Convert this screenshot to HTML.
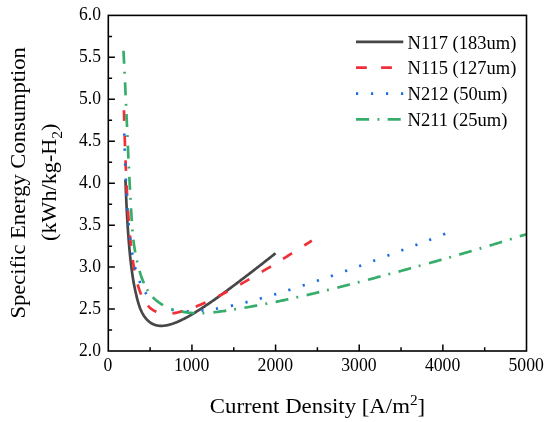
<!DOCTYPE html>
<html lang="en">
<head>
<meta charset="utf-8">
<title>Specific Energy Consumption vs Current Density</title>
<style>
html,body{margin:0;padding:0;background:#fff;}
body{width:550px;height:422px;overflow:hidden;}
svg{display:block;}
text{font-family:"Liberation Serif","DejaVu Serif",serif;fill:#000;}
.tk{font-size:18px;}
.lg{font-size:18.5px;}
.ax{font-size:21.5px;}
</style>
</head>
<body>
<svg width="550" height="422" viewBox="0 0 550 422">
<rect x="0" y="0" width="550" height="422" fill="#ffffff"/>
<defs><clipPath id="plot"><rect x="108.3" y="15.4" width="418.2" height="335.6"/></clipPath></defs>

<g clip-path="url(#plot)" fill="none" stroke-width="2.7" stroke-linejoin="round">
<path d="M125.46 180.03 L125.51 181.53 L125.57 183.03 L125.62 184.53 L125.68 186.03 L125.74 187.53 L125.80 189.03 L125.86 190.53 L125.92 192.03 L125.98 193.53 L126.05 195.03 L126.11 196.53 L126.18 198.03 L126.25 199.52 L126.31 201.02 L126.38 202.52 L126.45 204.02 L126.53 205.52 L126.60 207.02 L126.68 208.52 L126.75 210.02 L126.83 211.52 L126.91 213.02 L126.99 214.52 L127.08 216.01 L127.16 217.51 L127.25 219.01 L127.33 220.51 L127.42 222.01 L127.52 223.51 L127.61 225.00 L127.71 226.50 L127.80 228.00 L127.90 229.50 L128.00 230.99 L128.11 232.49 L128.21 233.99 L128.32 235.49 L128.43 236.98 L128.55 238.48 L128.67 239.98 L128.78 241.47 L128.91 242.97 L129.03 244.46 L129.16 245.96 L129.29 247.45 L129.42 248.95 L129.56 250.44 L129.70 251.94 L129.85 253.43 L129.99 254.93 L130.15 256.42 L130.30 257.91 L130.46 259.40 L130.63 260.90 L130.80 262.39 L130.97 263.88 L131.15 265.37 L131.34 266.86 L131.52 268.35 L131.72 269.83 L131.92 271.32 L132.13 272.81 L132.34 274.29 L132.56 275.78 L132.79 277.26 L133.03 278.74 L133.27 280.23 L133.52 281.70 L133.78 283.18 L134.06 284.66 L134.34 286.13 L134.63 287.61 L134.93 289.08 L135.24 290.54 L135.57 292.01 L135.91 293.47 L136.27 294.93 L136.60 296.39 L136.95 297.85 L137.31 299.31 L137.69 300.76 L138.10 302.20 L138.53 303.64 L138.99 305.07 L139.47 306.49 L139.98 307.90 L140.53 309.30 L141.12 310.68 L141.78 312.03 L142.48 313.35 L143.23 314.66 L144.03 315.93 L144.89 317.16 L145.80 318.35 L146.78 319.49 L147.83 320.56 L148.95 321.56 L150.13 322.48 L151.39 323.30 L152.71 324.01 L154.09 324.60 L155.51 325.08 L156.97 325.43 L158.45 325.67 L159.95 325.80 L161.45 325.83 L162.95 325.78 L164.44 325.64 L165.93 325.42 L167.40 325.14 L168.86 324.81 L170.32 324.42 L171.75 323.99 L173.18 323.52 L174.59 323.01 L175.99 322.47 L177.38 321.90 L178.76 321.31 L180.13 320.69 L181.48 320.05 L182.83 319.39 L184.17 318.72 L185.51 318.03 L186.83 317.32 L188.14 316.59 L189.45 315.85 L190.75 315.10 L192.04 314.34 L193.33 313.58 L194.62 312.80 L195.90 312.01 L197.17 311.22 L198.44 310.42 L199.70 309.61 L200.96 308.80 L202.22 307.98 L203.48 307.15 L204.73 306.32 L205.97 305.49 L207.22 304.65 L208.46 303.80 L209.70 302.95 L210.93 302.10 L212.16 301.24 L213.39 300.38 L214.62 299.52 L215.85 298.65 L217.07 297.78 L218.29 296.91 L219.51 296.04 L220.73 295.16 L221.95 294.28 L223.16 293.40 L224.37 292.51 L225.58 291.63 L226.79 290.74 L228.00 289.85 L229.21 288.95 L230.41 288.06 L231.62 287.16 L232.82 286.27 L234.02 285.37 L235.22 284.47 L236.42 283.56 L237.62 282.66 L238.82 281.76 L240.01 280.85 L241.21 279.94 L242.40 279.03 L243.60 278.12 L244.79 277.21 L245.98 276.30 L247.17 275.39 L248.37 274.47 L249.55 273.56 L250.74 272.64 L251.93 271.73 L253.12 270.81 L254.31 269.89 L255.49 268.97 L256.68 268.05 L257.87 267.13 L259.05 266.21 L260.23 265.29 L261.42 264.37 L262.60 263.44 L263.78 262.52 L264.97 261.59 L266.15 260.67 L267.33 259.74 L268.51 258.82 L269.69 257.89 L270.87 256.96 L272.05 256.03 L273.23 255.11 L274.41 254.18 L275.59 253.25" stroke="#474747"/>
<path d="M123.97 110.30 L124.01 111.80 L124.04 113.30 L124.08 114.81 L124.12 116.31 L124.16 117.81 L124.20 119.32 L124.25 120.82 L124.29 122.33 L124.33 123.83 L124.37 125.33 L124.41 126.84 L124.46 128.34 L124.50 129.84 L124.55 131.35 L124.59 132.85 L124.64 134.35 L124.68 135.86 L124.73 137.36 L124.78 138.86 L124.83 140.37 L124.87 141.87 L124.92 143.37 L124.97 144.88 L125.02 146.38 L125.07 147.88 L125.12 149.39 L125.18 150.89 L125.23 152.39 L125.28 153.90 L125.34 155.40 L125.39 156.90 L125.45 158.40 L125.51 159.91 L125.56 161.41 L125.62 162.91 L125.68 164.42 L125.74 165.92 L125.80 167.42 L125.86 168.92 L125.92 170.43 L125.99 171.93 L126.05 173.43 L126.12 174.94 L126.18 176.44 L126.25 177.94 L126.32 179.44 L126.39 180.95 L126.46 182.45 L126.53 183.95 L126.60 185.45 L126.67 186.96 L126.75 188.46 L126.82 189.96 L126.90 191.46 L126.98 192.96 L127.06 194.47 L127.14 195.97 L127.22 197.47 L127.31 198.97 L127.39 200.47 L127.48 201.97 L127.57 203.48 L127.66 204.98 L127.75 206.48 L127.84 207.98 L127.94 209.48 L128.03 210.98 L128.13 212.48 L128.23 213.98 L128.34 215.48 L128.44 216.98 L128.55 218.48 L128.66 219.98 L128.77 221.48 L128.88 222.98 L129.00 224.48 L129.12 225.98 L129.24 227.48 L129.36 228.98 L129.49 230.48 L129.62 231.98 L129.75 233.48 L129.89 234.98 L130.03 236.47 L130.17 237.97 L130.31 239.47 L130.46 240.96 L130.62 242.46 L130.77 243.96 L130.93 245.45 L131.10 246.95 L131.27 248.44 L131.44 249.93 L131.62 251.43 L131.81 252.92 L132.00 254.41 L132.20 255.90 L132.40 257.39 L132.61 258.88 L132.82 260.37 L133.04 261.86 L133.27 263.35 L133.51 264.83 L133.75 266.32 L134.01 267.80 L134.27 269.28 L134.54 270.76 L134.82 272.24 L135.12 273.71 L135.42 275.18 L135.74 276.65 L136.07 278.12 L136.41 279.59 L136.77 281.05 L137.15 282.50 L137.54 283.95 L137.95 285.40 L138.38 286.84 L138.84 288.28 L139.31 289.70 L139.82 291.12 L140.35 292.53 L140.91 293.92 L141.50 295.31 L142.12 296.67 L142.79 298.02 L143.50 299.35 L144.25 300.65 L145.05 301.93 L145.90 303.17 L146.80 304.37 L147.77 305.52 L148.79 306.63 L149.87 307.67 L151.02 308.64 L152.23 309.53 L153.50 310.35 L154.81 311.07 L156.18 311.71 L157.58 312.25 L159.02 312.69 L160.48 313.05 L161.95 313.33 L163.45 313.52 L164.95 313.64 L166.45 313.69 L167.95 313.68 L169.45 313.61 L170.95 313.49 L172.45 313.32 L173.94 313.11 L175.42 312.86 L176.90 312.58 L178.37 312.26 L179.83 311.91 L181.29 311.54 L182.74 311.14 L184.18 310.72 L185.62 310.28 L187.05 309.82 L188.48 309.34 L189.90 308.85 L191.31 308.34 L192.72 307.81 L194.13 307.28 L195.53 306.73 L196.92 306.16 L198.31 305.59 L199.70 305.01 L201.08 304.41 L202.46 303.81 L203.84 303.20 L205.21 302.58 L206.57 301.96 L207.94 301.32 L209.30 300.68 L210.66 300.03 L212.01 299.38 L213.36 298.72 L214.71 298.06 L216.06 297.38 L217.40 296.71 L218.74 296.03 L220.08 295.34 L221.42 294.65 L222.75 293.96 L224.08 293.26 L225.41 292.56 L226.74 291.85 L228.07 291.14 L229.39 290.43 L230.71 289.71 L232.03 288.99 L233.35 288.26 L234.67 287.54 L235.98 286.81 L237.30 286.08 L238.61 285.34 L239.92 284.60 L241.23 283.86 L242.54 283.12 L243.84 282.37 L245.15 281.63 L246.45 280.88 L247.76 280.12 L249.06 279.37 L250.36 278.61 L251.66 277.85 L252.95 277.09 L254.25 276.33 L255.55 275.57 L256.84 274.80 L258.13 274.04 L259.43 273.27 L260.72 272.50 L262.01 271.72 L263.30 270.95 L264.59 270.17 L265.87 269.40 L267.16 268.62 L268.45 267.84 L269.73 267.06 L271.02 266.27 L272.30 265.49 L273.58 264.71 L274.87 263.92 L276.15 263.13 L277.43 262.34 L278.71 261.55 L279.99 260.76 L281.27 259.97 L282.54 259.18 L283.82 258.38 L285.10 257.59 L286.37 256.79 L287.65 255.99 L288.92 255.20 L290.20 254.40 L291.47 253.60 L292.75 252.80 L294.02 251.99 L295.29 251.19 L296.56 250.39 L297.83 249.58 L299.10 248.78 L300.37 247.97 L301.64 247.17 L302.91 246.36 L304.18 245.55 L305.45 244.74 L306.71 243.93 L307.98 243.12 L309.25 242.31 L310.51 241.50 L311.78 240.68" stroke="#f03038" stroke-dasharray="0.00 0.00 10.60 14.71 10.60 14.11 10.60 14.36 10.60 14.56 10.60 14.41 10.60 14.21 10.60 14.46 10.60 13.11 10.60 16.26 10.60 13.71 10.60 14.21 10.60 14.26 10.60 14.56 10.60 14.16 10.60 14.56 10.60 483.54"/>
<path d="M124.24 133.37 L124.28 134.87 L124.33 136.37 L124.37 137.87 L124.41 139.37 L124.45 140.87 L124.50 142.37 L124.54 143.87 L124.58 145.38 L124.63 146.88 L124.68 148.38 L124.72 149.88 L124.77 151.38 L124.82 152.88 L124.87 154.38 L124.92 155.88 L124.97 157.38 L125.02 158.88 L125.08 160.38 L125.13 161.88 L125.18 163.38 L125.24 164.88 L125.30 166.38 L125.35 167.88 L125.41 169.38 L125.47 170.88 L125.53 172.38 L125.59 173.88 L125.66 175.39 L125.72 176.89 L125.79 178.39 L125.85 179.89 L125.92 181.39 L125.99 182.89 L126.06 184.38 L126.13 185.88 L126.21 187.38 L126.28 188.88 L126.36 190.38 L126.44 191.88 L126.52 193.38 L126.60 194.88 L126.68 196.38 L126.77 197.88 L126.86 199.38 L126.94 200.88 L127.04 202.38 L127.13 203.87 L127.22 205.37 L127.32 206.87 L127.42 208.37 L127.53 209.87 L127.63 211.37 L127.74 212.86 L127.85 214.36 L127.96 215.86 L128.08 217.35 L128.20 218.85 L128.32 220.35 L128.45 221.84 L128.58 223.34 L128.71 224.84 L128.84 226.33 L128.99 227.83 L129.13 229.32 L129.28 230.81 L129.43 232.31 L129.59 233.80 L129.75 235.29 L129.92 236.79 L130.09 238.28 L130.27 239.77 L130.46 241.26 L130.65 242.75 L130.84 244.24 L131.05 245.72 L131.26 247.21 L131.48 248.70 L131.70 250.18 L131.94 251.66 L132.18 253.14 L132.43 254.62 L132.69 256.10 L132.96 257.58 L133.25 259.05 L133.54 260.53 L133.84 262.00 L134.16 263.46 L134.49 264.93 L134.84 266.39 L135.20 267.85 L135.57 269.30 L135.97 270.75 L136.38 272.20 L136.81 273.63 L137.25 275.07 L137.72 276.49 L138.22 277.91 L138.73 279.32 L139.27 280.72 L139.84 282.11 L140.44 283.49 L141.06 284.86 L141.72 286.21 L142.41 287.54 L143.13 288.86 L143.89 290.15 L144.68 291.43 L145.52 292.68 L146.39 293.90 L147.30 295.09 L148.25 296.25 L149.25 297.37 L150.29 298.46 L151.36 299.51 L152.48 300.51 L153.63 301.47 L154.83 302.38 L156.05 303.24 L157.31 304.06 L158.61 304.83 L159.93 305.54 L161.27 306.21 L162.64 306.83 L164.03 307.40 L165.44 307.92 L166.86 308.40 L168.30 308.83 L169.75 309.22 L171.21 309.57 L172.67 309.89 L174.15 310.16 L175.63 310.41 L177.12 310.62 L178.61 310.79 L180.10 310.94 L181.60 311.06 L183.10 311.16 L184.60 311.23 L186.10 311.27 L187.60 311.30 L189.10 311.30 L190.60 311.28 L192.10 311.24 L193.61 311.19 L195.10 311.12 L196.60 311.03 L198.10 310.93 L199.60 310.81 L201.09 310.68 L202.59 310.53 L204.08 310.37 L205.57 310.20 L207.06 310.02 L208.55 309.83 L210.04 309.63 L211.53 309.41 L213.01 309.19 L214.50 308.96 L215.98 308.72 L217.46 308.47 L218.94 308.21 L220.41 307.94 L221.89 307.67 L223.37 307.39 L224.84 307.10 L226.31 306.81 L227.78 306.51 L229.25 306.20 L230.72 305.89 L232.19 305.57 L233.66 305.25 L235.12 304.92 L236.58 304.58 L238.05 304.25 L239.51 303.90 L240.97 303.55 L242.43 303.20 L243.89 302.84 L245.34 302.48 L246.80 302.11 L248.25 301.74 L249.71 301.37 L251.16 300.99 L252.61 300.61 L254.06 300.22 L255.52 299.83 L256.96 299.44 L258.41 299.05 L259.86 298.65 L261.31 298.25 L262.75 297.84 L264.20 297.43 L265.64 297.02 L267.09 296.61 L268.53 296.19 L269.97 295.78 L271.41 295.35 L272.85 294.93 L274.29 294.50 L275.73 294.08 L277.17 293.64 L278.61 293.21 L280.04 292.78 L281.48 292.34 L282.92 291.90 L284.35 291.46 L285.79 291.01 L287.22 290.57 L288.65 290.12 L290.08 289.67 L291.52 289.22 L292.95 288.76 L294.38 288.31 L295.81 287.85 L297.24 287.39 L298.67 286.93 L300.10 286.47 L301.52 286.01 L302.95 285.54 L304.38 285.08 L305.81 284.61 L307.23 284.14 L308.66 283.67 L310.08 283.19 L311.51 282.72 L312.93 282.24 L314.36 281.77 L315.78 281.29 L317.20 280.81 L318.62 280.33 L320.05 279.85 L321.47 279.37 L322.89 278.88 L324.31 278.40 L325.73 277.91 L327.15 277.42 L328.57 276.93 L329.99 276.44 L331.41 275.95 L332.83 275.46 L334.24 274.97 L335.66 274.47 L337.08 273.98 L338.50 273.48 L339.91 272.98 L341.33 272.48 L342.75 271.99 L344.16 271.49 L345.58 270.98 L346.99 270.48 L348.41 269.98 L349.82 269.48 L351.24 268.97 L352.65 268.47 L354.06 267.96 L355.48 267.45 L356.89 266.94 L358.30 266.44 L359.71 265.93 L361.13 265.42 L362.54 264.90 L363.95 264.39 L365.36 263.88 L366.77 263.37 L368.18 262.85 L369.59 262.34 L371.00 261.82 L372.41 261.31 L373.82 260.79 L375.23 260.27 L376.64 259.75 L378.05 259.23 L379.46 258.72 L380.87 258.19 L382.28 257.67 L383.68 257.15 L385.09 256.63 L386.50 256.11 L387.91 255.58 L389.31 255.06 L390.72 254.54 L392.13 254.01 L393.53 253.49 L394.94 252.96 L396.35 252.43 L397.75 251.91 L399.16 251.38 L400.56 250.85 L401.97 250.32 L403.37 249.79 L404.78 249.26 L406.18 248.73 L407.59 248.20 L408.99 247.67 L410.40 247.14 L411.80 246.60 L413.20 246.07 L414.61 245.54 L416.01 245.00 L417.41 244.47 L418.82 243.93 L420.22 243.40 L421.62 242.86 L423.02 242.33 L424.43 241.79 L425.83 241.25 L427.23 240.72 L428.63 240.18 L430.03 239.64 L431.44 239.10 L432.84 238.56 L434.24 238.02 L435.64 237.48 L437.04 236.94 L438.44 236.40 L439.84 235.86 L441.24 235.32 L442.64 234.78 L444.04 234.23 L445.44 233.69" stroke="#1a6fdf" stroke-dasharray="0.00 0.20 2.20 12.80 2.20 12.75 2.20 12.80 2.20 12.85 2.20 12.50 2.20 12.85 2.20 12.30 2.20 12.85 2.20 12.75 2.20 12.20 2.20 10.60 2.20 30.15 2.20 12.95 2.20 12.70 2.20 12.40 2.20 13.05 2.20 12.75 2.20 12.65 2.20 12.70 2.20 12.65 2.20 12.95 2.20 12.70 2.20 12.55 2.20 12.90 2.20 12.70 2.20 12.70 2.20 13.00 2.20 12.65 2.20 12.85 2.20 12.50 2.20 12.85 2.20 580.47"/>
<path d="M123.48 50.58 L123.56 52.08 L123.63 53.58 L123.71 55.08 L123.79 56.58 L123.86 58.08 L123.94 59.58 L124.02 61.08 L124.09 62.58 L124.16 64.08 L124.24 65.58 L124.31 67.08 L124.38 68.58 L124.46 70.08 L124.53 71.58 L124.60 73.09 L124.67 74.59 L124.74 76.09 L124.81 77.59 L124.88 79.09 L124.95 80.59 L125.02 82.09 L125.09 83.59 L125.16 85.09 L125.23 86.59 L125.30 88.09 L125.37 89.59 L125.44 91.09 L125.50 92.59 L125.57 94.09 L125.64 95.60 L125.71 97.10 L125.77 98.60 L125.84 100.10 L125.91 101.60 L125.97 103.10 L126.04 104.60 L126.11 106.10 L126.17 107.60 L126.24 109.10 L126.31 110.60 L126.37 112.10 L126.44 113.61 L126.50 115.11 L126.57 116.61 L126.64 118.11 L126.70 119.61 L126.77 121.11 L126.83 122.61 L126.90 124.11 L126.96 125.61 L127.03 127.11 L127.10 128.61 L127.16 130.12 L127.23 131.62 L127.30 133.12 L127.36 134.62 L127.43 136.12 L127.50 137.62 L127.56 139.12 L127.63 140.62 L127.70 142.12 L127.76 143.62 L127.83 145.12 L127.90 146.62 L127.97 148.12 L128.04 149.63 L128.10 151.13 L128.17 152.63 L128.24 154.13 L128.31 155.63 L128.38 157.13 L128.45 158.63 L128.52 160.13 L128.59 161.63 L128.66 163.13 L128.74 164.63 L128.81 166.13 L128.88 167.63 L128.95 169.13 L129.03 170.63 L129.10 172.14 L129.17 173.64 L129.25 175.14 L129.32 176.64 L129.40 178.14 L129.47 179.64 L129.55 181.14 L129.63 182.64 L129.70 184.14 L129.78 185.64 L129.86 187.14 L129.94 188.64 L130.02 190.14 L130.10 191.64 L130.18 193.14 L130.26 194.64 L130.34 196.14 L130.43 197.64 L130.51 199.14 L130.60 200.64 L130.68 202.14 L130.77 203.64 L130.85 205.14 L130.94 206.64 L131.03 208.14 L131.11 209.64 L131.20 211.14 L131.29 212.64 L131.38 214.14 L131.48 215.64 L131.57 217.14 L131.66 218.64 L131.76 220.14 L131.85 221.63 L131.95 223.13 L132.05 224.63 L132.15 226.13 L132.25 227.63 L132.36 229.13 L132.48 230.63 L132.60 232.12 L132.73 233.62 L132.87 235.12 L133.01 236.61 L133.17 238.11 L133.34 239.60 L133.52 241.09 L133.71 242.58 L133.91 244.07 L134.12 245.56 L134.35 247.04 L134.58 248.52 L134.83 250.01 L135.09 251.49 L135.36 252.96 L135.64 254.44 L135.93 255.91 L136.23 257.39 L136.54 258.86 L136.86 260.32 L137.19 261.79 L137.53 263.25 L137.88 264.71 L138.24 266.17 L138.62 267.63 L139.00 269.08 L139.41 270.53 L139.83 271.97 L140.27 273.40 L140.72 274.84 L141.20 276.26 L141.70 277.68 L142.22 279.09 L142.77 280.49 L143.34 281.87 L143.94 283.25 L144.57 284.62 L145.23 285.97 L145.92 287.30 L146.64 288.62 L147.40 289.91 L148.20 291.18 L149.04 292.43 L149.91 293.65 L150.83 294.84 L151.79 296.00 L152.79 297.12 L153.84 298.20 L154.93 299.23 L156.05 300.23 L157.21 301.18 L158.41 302.09 L159.64 302.96 L160.89 303.78 L162.17 304.56 L163.48 305.31 L164.81 306.01 L166.15 306.67 L167.52 307.30 L168.90 307.89 L170.30 308.44 L171.71 308.96 L173.13 309.44 L174.56 309.89 L176.01 310.31 L177.46 310.70 L178.92 311.05 L180.38 311.38 L181.86 311.68 L183.34 311.95 L184.82 312.19 L186.31 312.40 L187.80 312.59 L189.29 312.75 L190.78 312.89 L192.28 313.00 L193.78 313.09 L195.28 313.15 L196.79 313.20 L198.29 313.21 L199.79 313.21 L201.29 313.19 L202.79 313.14 L204.29 313.08 L205.79 313.00 L207.29 312.91 L208.79 312.79 L210.29 312.67 L211.78 312.53 L213.28 312.37 L214.77 312.21 L216.26 312.03 L217.76 311.85 L219.25 311.66 L220.73 311.45 L222.22 311.25 L223.71 311.04 L225.20 310.82 L226.68 310.60 L228.17 310.38 L229.65 310.15 L231.14 309.92 L232.62 309.69 L234.11 309.46 L235.59 309.22 L237.07 308.98 L238.56 308.74 L240.04 308.50 L241.52 308.25 L243.00 308.00 L244.48 307.75 L245.96 307.50 L247.44 307.24 L248.92 306.98 L250.40 306.72 L251.88 306.45 L253.36 306.19 L254.84 305.92 L256.32 305.65 L257.79 305.37 L259.27 305.10 L260.75 304.82 L262.22 304.54 L263.70 304.25 L265.17 303.97 L266.65 303.68 L268.12 303.39 L269.59 303.10 L271.07 302.81 L272.54 302.51 L274.01 302.21 L275.49 301.91 L276.96 301.61 L278.43 301.31 L279.90 301.00 L281.37 300.69 L282.84 300.38 L284.31 300.07 L285.78 299.76 L287.25 299.44 L288.71 299.12 L290.18 298.80 L291.65 298.48 L293.12 298.16 L294.58 297.83 L296.05 297.51 L297.52 297.18 L298.98 296.85 L300.45 296.52 L301.91 296.19 L303.38 295.85 L304.84 295.51 L306.31 295.18 L307.77 294.84 L309.23 294.50 L310.69 294.15 L312.16 293.81 L313.62 293.46 L315.08 293.12 L316.54 292.77 L318.00 292.42 L319.46 292.07 L320.92 291.72 L322.38 291.36 L323.84 291.01 L325.30 290.65 L326.76 290.29 L328.22 289.93 L329.68 289.57 L331.14 289.21 L332.60 288.85 L334.05 288.49 L335.51 288.12 L336.97 287.76 L338.43 287.39 L339.88 287.02 L341.34 286.66 L342.79 286.29 L344.25 285.92 L345.71 285.54 L347.16 285.17 L348.62 284.80 L350.07 284.42 L351.53 284.05 L352.98 283.67 L354.44 283.30 L355.89 282.92 L357.34 282.54 L358.80 282.16 L360.25 281.78 L361.70 281.40 L363.16 281.02 L364.61 280.64 L366.06 280.26 L367.52 279.87 L368.97 279.49 L370.42 279.10 L371.87 278.72 L373.32 278.33 L374.78 277.95 L376.23 277.56 L377.68 277.18 L379.13 276.79 L380.58 276.40 L382.03 276.01 L383.49 275.63 L384.94 275.24 L386.39 274.85 L387.84 274.46 L389.29 274.07 L390.74 273.68 L392.19 273.29 L393.64 272.90 L395.09 272.50 L396.54 272.11 L397.99 271.72 L399.44 271.33 L400.89 270.93 L402.34 270.54 L403.79 270.14 L405.24 269.75 L406.69 269.35 L408.14 268.96 L409.59 268.56 L411.04 268.16 L412.49 267.77 L413.93 267.37 L415.38 266.97 L416.83 266.57 L418.28 266.17 L419.73 265.77 L421.18 265.37 L422.62 264.97 L424.07 264.57 L425.52 264.17 L426.97 263.76 L428.41 263.36 L429.86 262.96 L431.31 262.55 L432.75 262.15 L434.20 261.74 L435.65 261.33 L437.09 260.93 L438.54 260.52 L439.98 260.11 L441.43 259.70 L442.87 259.29 L444.32 258.88 L445.76 258.47 L447.21 258.06 L448.65 257.64 L450.10 257.23 L451.54 256.82 L452.99 256.40 L454.43 255.99 L455.87 255.57 L457.32 255.16 L458.76 254.74 L460.20 254.32 L461.65 253.90 L463.09 253.48 L464.53 253.06 L465.97 252.64 L467.42 252.22 L468.86 251.80 L470.30 251.37 L471.74 250.95 L473.18 250.53 L474.62 250.10 L476.06 249.67 L477.50 249.25 L478.94 248.82 L480.38 248.39 L481.82 247.96 L483.26 247.53 L484.70 247.10 L486.14 246.67 L487.58 246.23 L489.02 245.80 L490.45 245.37 L491.89 244.93 L493.33 244.50 L494.77 244.06 L496.20 243.62 L497.64 243.18 L499.08 242.74 L500.51 242.30 L501.95 241.86 L503.39 241.42 L504.82 240.97 L506.26 240.53 L507.69 240.09 L509.13 239.64 L510.56 239.19 L511.99 238.74 L513.43 238.30 L514.86 237.85 L516.29 237.40 L517.73 236.94 L519.16 236.49 L520.59 236.04 L522.02 235.58 L523.46 235.13 L524.89 234.67 L526.32 234.21" stroke="#37ad6b" stroke-dasharray="0.00 0.15 13.00 8.05 1.90 8.75 13.00 8.45 1.90 8.30 13.00 8.15 1.90 8.55 13.00 8.10 1.90 8.35 13.00 8.00 1.90 8.45 13.00 8.35 1.90 8.40 13.00 8.10 1.90 8.85 13.00 6.90 1.90 7.80 13.00 9.20 1.90 8.70 13.00 7.90 1.90 9.10 13.00 7.95 1.90 8.50 13.00 8.35 1.90 8.55 13.00 8.20 1.90 8.60 13.00 7.95 1.90 8.80 13.00 8.05 1.90 8.65 13.00 8.10 1.90 8.60 13.00 7.90 1.90 8.85 13.00 8.00 1.90 8.45 13.00 8.20 1.90 8.65 13.00 8.20 1.90 8.45 13.00 738.48"/>
</g>
<rect x="108.3" y="15.4" width="418.2" height="335.6" fill="none" stroke="#000" stroke-width="1.6"/>
<path d="M150.12 351.00 v-3.80 M191.94 351.00 v-6.60 M233.76 351.00 v-3.80 M275.58 351.00 v-6.60 M317.40 351.00 v-3.80 M359.22 351.00 v-6.60 M401.04 351.00 v-3.80 M442.86 351.00 v-6.60 M484.68 351.00 v-3.80 M108.30 36.38 h3.80 M108.30 57.35 h6.60 M108.30 78.33 h3.80 M108.30 99.30 h6.60 M108.30 120.28 h3.80 M108.30 141.25 h6.60 M108.30 162.23 h3.80 M108.30 183.20 h6.60 M108.30 204.18 h3.80 M108.30 225.15 h6.60 M108.30 246.13 h3.80 M108.30 267.10 h6.60 M108.30 288.07 h3.80 M108.30 309.05 h6.60 M108.30 330.02 h3.80" stroke="#000" stroke-width="1.5" fill="none"/>
<text class="tk" x="108.0" y="370.7" text-anchor="middle" textLength="8.8" lengthAdjust="spacingAndGlyphs">0</text>
<text class="tk" x="191.6" y="370.7" text-anchor="middle" textLength="35.4" lengthAdjust="spacingAndGlyphs">1000</text>
<text class="tk" x="275.3" y="370.7" text-anchor="middle" textLength="35.4" lengthAdjust="spacingAndGlyphs">2000</text>
<text class="tk" x="358.9" y="370.7" text-anchor="middle" textLength="35.4" lengthAdjust="spacingAndGlyphs">3000</text>
<text class="tk" x="442.6" y="370.7" text-anchor="middle" textLength="35.4" lengthAdjust="spacingAndGlyphs">4000</text>
<text class="tk" x="526.2" y="370.7" text-anchor="middle" textLength="35.4" lengthAdjust="spacingAndGlyphs">5000</text>
<text class="tk" x="100.9" y="355.5" text-anchor="end" textLength="21.9" lengthAdjust="spacingAndGlyphs">2.0</text>
<text class="tk" x="100.9" y="313.6" text-anchor="end" textLength="21.9" lengthAdjust="spacingAndGlyphs">2.5</text>
<text class="tk" x="100.9" y="271.6" text-anchor="end" textLength="21.9" lengthAdjust="spacingAndGlyphs">3.0</text>
<text class="tk" x="100.9" y="229.6" text-anchor="end" textLength="21.9" lengthAdjust="spacingAndGlyphs">3.5</text>
<text class="tk" x="100.9" y="187.7" text-anchor="end" textLength="21.9" lengthAdjust="spacingAndGlyphs">4.0</text>
<text class="tk" x="100.9" y="145.8" text-anchor="end" textLength="21.9" lengthAdjust="spacingAndGlyphs">4.5</text>
<text class="tk" x="100.9" y="103.8" text-anchor="end" textLength="21.9" lengthAdjust="spacingAndGlyphs">5.0</text>
<text class="tk" x="100.9" y="61.8" text-anchor="end" textLength="21.9" lengthAdjust="spacingAndGlyphs">5.5</text>
<text class="tk" x="100.9" y="19.9" text-anchor="end" textLength="21.9" lengthAdjust="spacingAndGlyphs">6.0</text>
<path d="M356.0 41.85 H403.3" stroke="#474747" stroke-width="2.7" fill="none"/>
<text class="lg" x="407.6" y="48.50" textLength="108.7" lengthAdjust="spacingAndGlyphs">N117 (183um)</text>
<path d="M356.0 67.70 H403.3" stroke="#f03038" stroke-width="2.7" fill="none" stroke-dasharray="10.8 14.3"/>
<text class="lg" x="407.6" y="74.35" textLength="108.7" lengthAdjust="spacingAndGlyphs">N115 (127um)</text>
<path d="M356.0 93.55 H403.3" stroke="#1a6fdf" stroke-width="2.7" fill="none" stroke-dasharray="2.2 12.8"/>
<text class="lg" x="407.6" y="100.20" textLength="99.8" lengthAdjust="spacingAndGlyphs">N212 (50um)</text>
<path d="M356.0 119.40 H403.3" stroke="#37ad6b" stroke-width="2.7" fill="none" stroke-dasharray="13.1 8.35 1.9 8.25"/>
<text class="lg" x="407.6" y="126.05" textLength="99.8" lengthAdjust="spacingAndGlyphs">N211 (25um)</text>
<text class="ax" x="317.5" y="413.2" text-anchor="middle" textLength="215.4" lengthAdjust="spacingAndGlyphs">Current Density [A/m<tspan font-size="14.5px" dy="-7.9">2</tspan><tspan dy="7.9">]</tspan></text>
<text class="ax" transform="translate(25.2 182.8) rotate(-90)" text-anchor="middle" textLength="271.4" lengthAdjust="spacingAndGlyphs">Specific Energy Consumption</text>
<text class="ax" transform="translate(56.0 182.25) rotate(-90)" text-anchor="middle" textLength="117.4" lengthAdjust="spacingAndGlyphs">(kWh/kg-H<tspan font-size="15px" dy="5.8">2</tspan><tspan dy="-5.8">)</tspan></text>
</svg>
</body>
</html>
